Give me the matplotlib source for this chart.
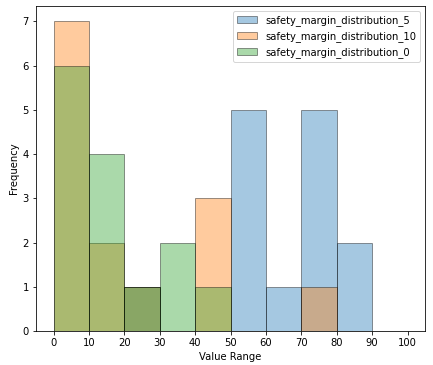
import matplotlib
matplotlib.use("Agg")
import matplotlib.pyplot as plt
import numpy as np

bins = [0, 10, 20, 30, 40, 50, 60, 70, 80, 90, 100]
labels = ["safety_margin_distribution_5", "safety_margin_distribution_10", "safety_margin_distribution_0"]
counts_5 = [0, 0, 1, 0, 0, 5, 1, 5, 2, 0]
counts_10 = [7, 2, 1, 0, 3, 0, 0, 1, 0, 0]
counts_0 = [6, 4, 1, 2, 1, 0, 0, 0, 0, 0]
colors = ["#1f77b4", "#ff7f0e", "#2ca02c"]

fig = plt.figure(figsize=(433/72, 365/72), dpi=72)
ax = fig.add_axes([0.083, 0.093, 0.899, 0.891])
mids = np.array(bins[:-1]) + 5
for c, lab, col in zip([counts_5, counts_10, counts_0], labels, colors):
    ax.hist(mids, bins=bins, weights=c, alpha=0.4, color=col, edgecolor="black", label=lab)
ax.set_xticks(bins)
ax.set_xlabel("Value Range")
ax.set_ylabel("Frequency")
ax.legend(loc="upper right")
fig.savefig("out.png", dpi=72)
